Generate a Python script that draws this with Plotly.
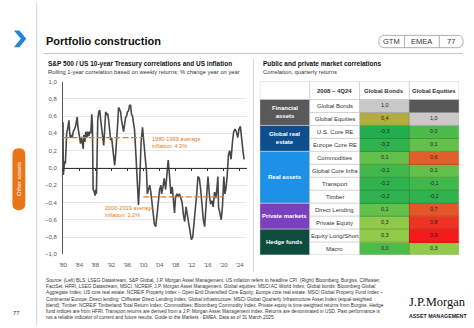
import plotly.graph_objects as go

W, H = 474, 328
FONT = "Liberation Sans, Arial, sans-serif"

# ---- Left panel: rolling 1-year S&P 500 / UST 10y correlation ----
years = [1980.0, 1980.08, 1980.25, 1980.4, 1980.58, 1980.74, 1980.9, 1981.15, 1981.3, 1981.48,
         1981.65, 1981.8, 1982.06, 1982.3, 1982.55, 1982.88, 1983.13, 1983.38, 1983.54, 1983.7,
         1983.96, 1984.2, 1984.37, 1984.61, 1984.86, 1985.03, 1985.19, 1985.44, 1985.69, 1985.93,
         1986.18, 1986.43, 1986.67, 1986.92, 1987.17, 1987.33, 1987.5, 1987.75, 1987.99, 1988.16,
         1988.32, 1988.49, 1988.65, 1988.9, 1989.15, 1989.4, 1989.64, 1989.89, 1990.14, 1990.38,
         1990.63, 1990.88, 1991.12, 1991.37, 1991.62, 1991.87, 1992.11, 1992.36, 1992.61, 1992.86,
         1993.1, 1993.35, 1993.6, 1993.84, 1994.09, 1994.34, 1994.59, 1994.83, 1995.08, 1995.33,
         1995.57, 1995.82, 1996.07, 1996.32, 1996.56, 1996.81, 1997.06, 1997.3, 1997.8, 1998.1,
         1998.4, 1998.8, 1999.1, 1999.45, 1999.8, 2000.1, 2000.4, 2000.8, 2001.0, 2001.26,
         2001.59, 2001.84, 2002.09, 2002.4, 2002.75, 2003.08, 2003.4, 2003.73, 2004.06, 2004.4,
         2004.56, 2004.9, 2005.2, 2005.55, 2005.88, 2006.04, 2006.2, 2006.45, 2006.6, 2006.87,
         2007.2, 2007.5, 2007.77, 2008.0, 2008.35, 2008.68, 2009.0, 2009.33, 2009.66, 2010.0,
         2010.3, 2010.64, 2010.97, 2011.3, 2011.6, 2011.97, 2012.3, 2012.6, 2012.95, 2013.3,
         2013.6, 2013.95, 2014.28, 2014.6, 2014.94, 2015.27, 2015.6, 2015.93, 2016.1, 2016.43,
         2016.75, 2017.1, 2017.4, 2017.74, 2018.07, 2018.4, 2018.56, 2018.73, 2019.06, 2019.4,
         2019.7, 2020.05, 2020.3, 2020.54, 2020.87, 2021.2, 2021.5, 2021.85, 2022.2, 2022.5,
         2022.84, 2023.17, 2023.5, 2023.84, 2024.17, 2024.5, 2024.8, 2025.1]
corr = [0.53, -0.08, 0.0, 0.08, 0.05, 0.2, 0.4, 0.45, 0.5, 0.55,
        0.42, 0.35, 0.38, 0.35, 0.42, 0.45, 0.48, 0.55, 0.59, 0.48,
        0.4, 0.38, 0.28, 0.36, 0.3, 0.22, 0.38, 0.3, 0.42, 0.35,
        0.42, 0.37, 0.42, 0.4, 0.62, 0.5, -0.25, -0.27, -0.32, -0.25,
        -0.3, 0.3, 0.55, 0.65, 0.67, 0.55, 0.45, 0.38, 0.26, 0.45,
        0.65, 0.62, 0.63, 0.55, 0.4, 0.32, 0.35, 0.22, 0.12, 0.03,
        0.15, 0.28, 0.5, 0.7, 0.68, 0.65, 0.55, 0.45, 0.42, 0.5,
        0.58, 0.6, 0.65, 0.66, 0.72, 0.73, 0.62, 0.6, 0.45, 0.2,
        -0.1, -0.43, -0.15, 0.3, 0.47, 0.3, 0.1, -0.05, -0.3, -0.25,
        -0.2, -0.27, -0.35, -0.5, -0.65, -0.68, -0.55, -0.4, -0.25, -0.2,
        -0.3, -0.22, -0.12, -0.25, -0.1, 0.0, 0.09, -0.05, -0.2, -0.3,
        -0.22, -0.45, -0.52, -0.35, -0.3, -0.33, -0.3, -0.35, -0.4, -0.55,
        -0.62, -0.45, -0.55, -0.6, -0.72, -0.83, -0.8, -0.65, -0.55, -0.3,
        -0.1, -0.12, -0.25, -0.45, -0.6, -0.68, -0.4, -0.25, -0.1, -0.3,
        -0.42, -0.38, -0.45, -0.28, -0.35, -0.2, -0.1, -0.45, -0.55, -0.6,
        -0.45, -0.1, -0.3, -0.25, -0.1, 0.15, 0.2, 0.1, 0.3, 0.42,
        0.45, 0.42, 0.35, 0.45, 0.48, 0.3, 0.2, 0.1]

tick_years = list(range(1980, 2025, 4))
tick_text = ["'" + str(y)[2:] for y in tick_years]

avg_start = [1980, 2000]
avg_end = [2000, 2020]
avg_value = [0.35, -0.335]
avg_text = ["1980-1999 average<br>inflation: 4.3%", "2000-2019 average<br>inflation: 2.2%"]

# ---- Right panel: correlation table ----
col_headers = ["2008 – 4Q24", "Global Bonds", "Global Equities"]
row_labels = ["Global Bonds", "Global Equities", "U.S. Core RE", "Europe Core RE", "Commodities",
              "Global Core Infra", "Transport", "Timber", "Direct Lending", "Private Equity",
              "Equity Long/Short", "Macro"]
bonds = [1.0, 0.4, -0.3, -0.2, 0.1, -0.1, -0.2, -0.2, 0.1, 0.3, 0.3, 0.0]
equities = [None, 1.0, 0.0, 0.1, 0.6, 0.1, -0.1, -0.2, 0.7, 0.8, 0.9, 0.3]
group_names = ["Financial<br>assets", "Global real<br>estate", "Real assets", "Private markets", "Hedge funds"]
group_sizes = [2, 2, 4, 2, 2]
group_colors = ["#59595b", "#0d4e8e", "#1d90e8", "#7b40c0", "#0e4c3e"]
value_colors = {-0.3: "#22ae50", -0.2: "#30b34e", -0.1: "#40b84c", 0.0: "#4dbb4a",
                0.1: "#63c04a", 0.3: "#8fca4b", 0.4: "#b2ad3e", 0.6: "#e0602b",
                0.7: "#e4552a", 0.8: "#ee3325", 0.9: "#f51b1b", 1.0: "#c9c9c9"}

footnote = ("Source: (Left) BLS, LSEG Datastream, S&P Global, J.P. Morgan Asset Management. US inflation refers to headline CPI. (Right) Bloomberg, Burgiss, Cliffwater,<br>"
            "FactSet, HFRI, LSEG Datastream, MSCI, NCREIF, J.P. Morgan Asset Management. Global equities: MSCI AC World Index; Global bonds: Bloomberg Global<br>"
            "Aggregate Index; US core real estate: NCREIF Property Index – Open End Diversified Core Equity; Europe core real estate: MSCI Global Property Fund Index –<br>"
            "Continental Europe; Direct lending: Cliffwater Direct Lending Index; Global infrastructure: MSCI Global Quarterly Infrastructure Asset Index (equal-weighted<br>"
            "blend); Timber: NCREIF Timberland Total Return Index; Commodities: Bloomberg Commodity Index. Private equity is time-weighted returns from Burgiss. Hedge<br>"
            "fund indices are from HFRI. Transport returns are derived from a J.P. Morgan Asset Management index. Returns are denominated in USD. Past performance is<br>"
            "not a reliable indicator of current and future results. Guide to the Markets - EMEA. Data as of 31 March 2025.")


def X(x):
    return x / W


def Y(y):
    return 1 - y / H


def rounded_rect(x0, y0, x1, y1, r):
    return (f"M {X(x0 + r)},{Y(y0)} L {X(x1 - r)},{Y(y0)} Q {X(x1)},{Y(y0)} {X(x1)},{Y(y0 + r)} "
            f"L {X(x1)},{Y(y1 - r)} Q {X(x1)},{Y(y1)} {X(x1 - r)},{Y(y1)} "
            f"L {X(x0 + r)},{Y(y1)} Q {X(x0)},{Y(y1)} {X(x0)},{Y(y1 - r)} "
            f"L {X(x0)},{Y(y0 + r)} Q {X(x0)},{Y(y0)} {X(x0 + r)},{Y(y0)} Z")


# subplot domains
line_x = [X(59.5), X(245)]
line_y = [Y(256), Y(80)]
tab_x = [X(258), X(459)]
tab_y = [Y(256.7), Y(80)]
zero_pos = (line_y[0] + line_y[1]) / 2
header_top = 0.5 - 18.3 / 13.2

fig = go.Figure()

fig.add_trace(go.Scatter(x=years, y=corr, mode="lines", xaxis="x", yaxis="y",
                         line=dict(color="#48484a", width=1.6), hoverinfo="skip"))
for s, e, v in zip(avg_start, avg_end, avg_value):
    fig.add_trace(go.Scatter(x=[s, e], y=[v, v], mode="lines", xaxis="x3", yaxis="y",
                             line=dict(color="#e37b24", width=1.3, dash="6px,2.5px"), hoverinfo="skip"))

# value cells
z = [[b, e] for b, e in zip(bonds, equities)]
cell_text = [["" if v is None else f"{v:.1f}".replace(".", ",") for v in row] for row in z]
zmin, zmax = min(value_colors), max(value_colors)
cscale = [[(v - zmin) / (zmax - zmin), c] for v, c in sorted(value_colors.items())]
cscale[0][0], cscale[-1][0] = 0.0, 1.0
rows = list(range(1, len(row_labels) + 1))
fig.add_trace(go.Heatmap(x=[2, 3], y=rows, z=z, zmin=zmin, zmax=zmax, colorscale=cscale,
                         showscale=False, text=cell_text, texttemplate="%{text}",
                         textfont=dict(size=5.5, color="#222", family=FONT),
                         xaxis="x2", yaxis="y2", hoverinfo="skip"))
# duplicate (bonds vs equities) cell shaded dark
fig.add_trace(go.Heatmap(x=[3], y=[rows[0]], z=[[1]], colorscale=[[0, "#58585a"], [1, "#58585a"]],
                         showscale=False, xaxis="x2", yaxis="y2", hoverinfo="skip"))

shapes = []
annotations = []

# page furniture
shapes.append(dict(type="line", xref="paper", yref="paper", x0=X(33), x1=X(33), y0=0, y1=1,
                   line=dict(color="#d4d4d4", width=1)))
shapes.append(dict(type="path", xref="paper", yref="paper", fillcolor="#1f86e0", line=dict(width=0),
                   path=f"M {X(10)},{Y(28)} L {X(15.5)},{Y(28)} L {X(22.5)},{Y(36.5)} L {X(15.5)},{Y(45)} "
                        f"L {X(10)},{Y(45)} L {X(17)},{Y(36.5)} Z"))
shapes.append(dict(type="line", xref="paper", yref="paper", x0=X(40), x1=X(463), y0=Y(51.5), y1=Y(51.5),
                   line=dict(color="#c4c4c4", width=1)))
shapes.append(dict(type="line", xref="paper", yref="paper", x0=X(251.5), x1=X(251.5), y0=Y(274), y1=Y(57),
                   line=dict(color="#d8d8d8", width=1)))
shapes.append(dict(type="path", xref="paper", yref="paper", fillcolor="white",
                   line=dict(color="#9a9a9a", width=0.8), path=rounded_rect(378, 33, 463, 45.5, 6)))
for xd in (404, 439):
    shapes.append(dict(type="line", xref="paper", yref="paper", x0=X(xd), x1=X(xd), y0=Y(33), y1=Y(45.5),
                       line=dict(color="#9a9a9a", width=0.8)))
shapes.append(dict(type="path", xref="paper", yref="paper", fillcolor="#e8751a", line=dict(width=0),
                   path=rounded_rect(8.5, 148, 21.5, 211, 6.5)))

# group cells of the table
start = 1
for name, n, col in zip(group_names, group_sizes, group_colors):
    shapes.append(dict(type="rect", xref="x2", yref="y2", x0=-0.5, x1=0.5, y0=start - 0.5, y1=start + n - 0.5,
                       fillcolor=col, line=dict(width=0), layer="below"))
    annotations.append(dict(xref="x2", yref="y2", x=0, y=start + (n - 1) / 2, text=f"<b>{name}</b>",
                            showarrow=False, font=dict(size=6, color="white", family=FONT)))
    start += n

# table grid
light = dict(color="#c6c6c6", width=0.8)
dark = dict(color="rgba(0,0,0,0.22)", width=0.8)
n_rows = len(row_labels)
shapes.append(dict(type="rect", xref="x2", yref="y2", x0=-0.5, x1=3.5, y0=header_top, y1=n_rows + 0.5,
                   line=light))
bounds = set()
acc = 0
for n in group_sizes:
    acc += n
    bounds.add(acc)
for k in range(0, n_rows):
    x0 = -0.5 if (k == 0 or k in bounds) else 0.5
    shapes.append(dict(type="line", xref="x2", yref="y2", x0=x0, x1=1.5, y0=k + 0.5, y1=k + 0.5, line=light))
    shapes.append(dict(type="line", xref="x2", yref="y2", x0=1.5, x1=3.5, y0=k + 0.5, y1=k + 0.5,
                       line=light if k == 0 else dark))
for xv in (0.5, 1.5):
    shapes.append(dict(type="line", xref="x2", yref="y2", x0=xv, x1=xv, y0=header_top, y1=n_rows + 0.5, line=light))
shapes.append(dict(type="line", xref="x2", yref="y2", x0=2.5, x1=2.5, y0=header_top, y1=0.5, line=light))
shapes.append(dict(type="line", xref="x2", yref="y2", x0=2.5, x1=2.5, y0=0.5, y1=n_rows + 0.5, line=dark))

for i, h in enumerate(col_headers):
    annotations.append(dict(xref="x2", yref="y2", x=i + 1, y=(header_top + 0.5) / 2, text=f"<b>{h}</b>",
                            showarrow=False, font=dict(size=6, color="#333", family=FONT)))
for r, lab in zip(rows, row_labels):
    annotations.append(dict(xref="x2", yref="y2", x=1, y=r, text=lab, showarrow=False,
                            font=dict(size=6, color="#333", family=FONT)))

# average annotations on the line chart
annotations.append(dict(xref="x", yref="y", x=2001.6, y=0.30, text=avg_text[0], showarrow=False,
                        xanchor="left", yanchor="middle", align="left",
                        font=dict(size=5.6, color="#e37b24", family=FONT)))
annotations.append(dict(xref="x", yref="y", x=1990.0, y=-0.50, text=avg_text[1], showarrow=False,
                        xanchor="left", yanchor="middle", align="left",
                        font=dict(size=5.6, color="#e37b24", family=FONT)))

# titles and page texts
def ptext(x, y, text, size, color="#222", xanchor="left", yanchor="middle", **kw):
    annotations.append(dict(xref="paper", yref="paper", x=X(x), y=Y(y), text=text, showarrow=False,
                            xanchor=xanchor, yanchor=yanchor, font=dict(size=size, color=color,
                                                                        family=kw.pop("family", FONT)), **kw))


ptext(40, 38.5, "<b>Portfolio construction</b>", 11, "#111")
ptext(391, 39.5, "GTM", 7.5, "#333", xanchor="center")
ptext(421.5, 39.5, "EMEA", 7.5, "#333", xanchor="center")
ptext(451, 39.5, "77", 7.5, "#333", xanchor="center")
ptext(42.5, 62, "<b>S&P 500 / US 10-year Treasury correlations and US inflation</b>", 6.5, "#111")
ptext(42.5, 70, "Rolling 1-year correlation based on weekly returns; % change year on year", 5.8, "#333")
ptext(259, 62, "<b>Public and private market correlations</b>", 6.5, "#111")
ptext(259, 70, "Correlation, quarterly returns", 5.8, "#333")
ptext(15, 179.5, "Other assets", 6, "white", xanchor="center", textangle=-90)
ptext(13, 316, "77", 6, "#333", xanchor="center")
ptext(40, 278.5, footnote, 4.75, "#333", yanchor="top", align="left")
ptext(437.5, 305, "J.P.Morgan", 12.5, "#111", xanchor="center", family="Liberation Serif, Times New Roman, serif")
ptext(437.5, 318.5, "<b>ASSET MANAGEMENT</b>", 5.3, "#222", xanchor="center")

axis_font = dict(size=6, color="#555", family=FONT)
fig.update_layout(
    width=W, height=H, autosize=False,
    margin=dict(l=0, r=0, t=0, b=0, pad=0),
    paper_bgcolor="white", plot_bgcolor="white",
    separators=",.", showlegend=False,
    font=dict(family=FONT),
    xaxis=dict(domain=line_x, range=[1980, 2025.8], tickvals=tick_years, ticktext=tick_text,
               showgrid=False, zeroline=False, showline=False, ticks="", tickfont=axis_font,
               ticklabelstandoff=6, anchor="y"),
    xaxis3=dict(overlaying="x", matches="x", anchor="free", position=zero_pos, tickvals=tick_years,
                showticklabels=False, showline=True, linecolor="#333", linewidth=1,
                ticks="outside", ticklen=2.5, tickcolor="#333", tickwidth=0.8,
                showgrid=False, zeroline=False),
    yaxis=dict(domain=line_y, range=[-1, 1], dtick=0.2, tick0=-1, tickformat=".1f",
               showgrid=True, gridcolor="#e8e8e8", gridwidth=0.8, zeroline=False,
               showline=True, linecolor="#555", linewidth=1, ticks="", tickfont=axis_font,
               ticklabelstandoff=4, anchor="x"),
    xaxis2=dict(domain=tab_x, range=[-0.5, 3.5], visible=False, anchor="y2"),
    yaxis2=dict(domain=tab_y, range=[n_rows + 0.5, header_top], visible=False, anchor="x2"),
    shapes=shapes,
    annotations=annotations,
)

fig.write_html("out.html", config={"displayModeBar": False})
